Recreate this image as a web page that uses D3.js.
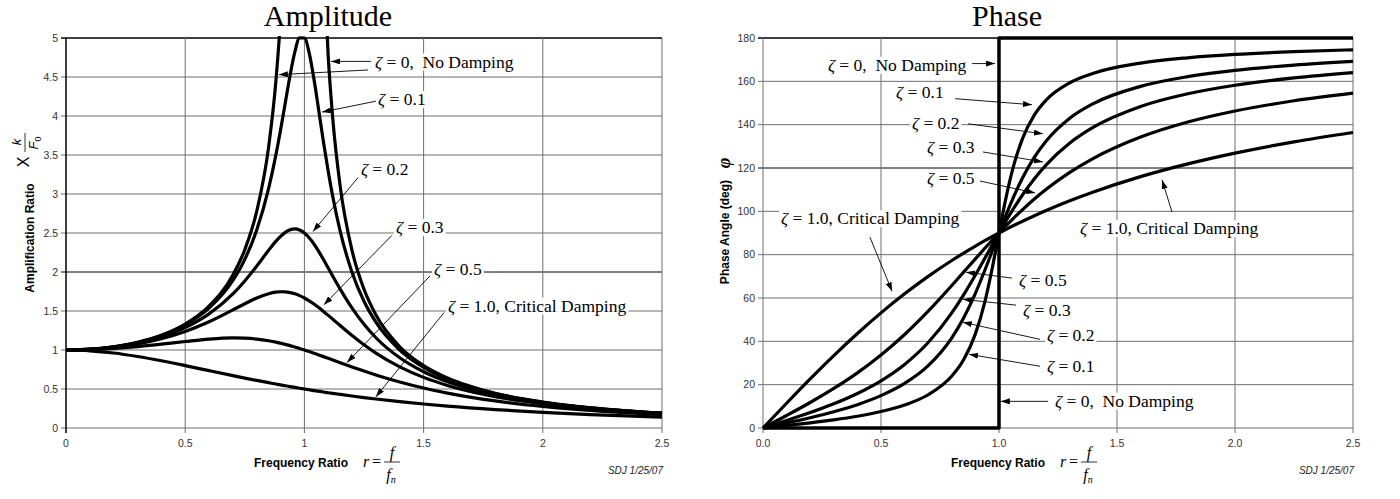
<!DOCTYPE html>
<html>
<head>
<meta charset="utf-8">
<script src="https://cdn.jsdelivr.net/npm/d3@7"></script>
<style>
  body { margin: 0; background: #fff; }
  text { font-family: "Liberation Sans", Arial, sans-serif; }
  .serif { font-family: "Liberation Serif", "Times New Roman", serif; }
</style>
</head>
<body>
<svg id="chart"></svg>
<script>
// frequency ratios r = f / fn used for the amplitude curves
const ratios = [0, 0.1, 0.2, 0.3, 0.4, 0.5, 0.6, 0.7, 0.75, 0.8, 0.85, 0.88, 0.9, 0.92, 0.94, 0.96, 0.98, 1.0,
  1.02, 1.04, 1.06, 1.08, 1.1, 1.12, 1.15, 1.2, 1.25, 1.3, 1.4, 1.5, 1.6, 1.8, 2.0, 2.2, 2.5];

// amplification ratio X k / F0, one list per damping ratio
const ampZeta0 = [1.0, 1.01, 1.042, 1.099, 1.19, 1.333, 1.563, 1.961, 2.286, 2.778, 3.604, 4.433, 5.263, 6.51,
  null, null, null, null, null, null, null, 6.01, 4.762, 3.931, 3.101, 2.273, 1.778, 1.449, 1.042, 0.8, 0.641, 0.446, 0.333, 0.26, 0.19];
const ampZeta01 = [1.0, 1.01, 1.041, 1.097, 1.185, 1.322, 1.536, 1.891, 2.162, 2.538, 3.073, 3.495, 3.821, 4.172,
  4.522, 4.822, 5.001, 5.0, 4.809, 4.476, 4.075, 3.668, 3.288, 2.95, 2.525, 1.995, 1.625, 1.356, 1.0, 0.778, 0.628, 0.441, 0.33, 0.259, 0.19];
const ampZeta02 = [1.0, 1.009, 1.038, 1.09, 1.17, 1.288, 1.463, 1.719, 1.885, 2.076, 2.279, 2.392, 2.457, 2.508,
  2.541, 2.552, 2.538, 2.5, 2.439, 2.359, 2.264, 2.16, 2.051, 1.941, 1.78, 1.536, 1.329, 1.157, 0.9, 0.721, 0.593, 0.425, 0.322, 0.254, 0.187];
const ampZeta03 = [1.0, 1.008, 1.034, 1.078, 1.145, 1.238, 1.362, 1.514, 1.593, 1.667, 1.722, 1.742, 1.747, 1.745,
  1.736, 1.72, 1.697, 1.667, 1.63, 1.589, 1.544, 1.495, 1.444, 1.392, 1.313, 1.185, 1.067, 0.96, 0.784, 0.649, 0.546, 0.402, 0.31, 0.246, 0.183];
const ampZeta05 = [1.0, 1.005, 1.02, 1.044, 1.075, 1.109, 1.14, 1.155, 1.152, 1.14, 1.118, 1.101, 1.087, 1.072,
  1.056, 1.038, 1.02, 1.0, 0.98, 0.959, 0.937, 0.915, 0.893, 0.871, 0.837, 0.782, 0.73, 0.68, 0.589, 0.512, 0.448, 0.348, 0.277, 0.226, 0.172];
const ampZeta10 = [1.0, 0.99, 0.962, 0.917, 0.862, 0.8, 0.735, 0.671, 0.64, 0.61, 0.581, 0.564, 0.552, 0.542,
  0.531, 0.52, 0.51, 0.5, 0.49, 0.48, 0.471, 0.462, 0.452, 0.444, 0.431, 0.41, 0.39, 0.372, 0.338, 0.308, 0.281, 0.236, 0.2, 0.171, 0.138];

// frequency ratios used for the phase curves
const phaseRatios = [0, 0.1, 0.2, 0.3, 0.4, 0.5, 0.6, 0.7, 0.8, 0.85, 0.9, 0.94, 0.97, 1.0, 1.03, 1.06, 1.1,
  1.15, 1.2, 1.3, 1.4, 1.6, 1.8, 2.0, 2.25, 2.5];
const phaseZeta01 = [0, 1.16, 2.39, 3.77, 5.44, 7.6, 10.62, 15.35, 23.96, 31.49, 43.45, 58.24, 73.06, 90,
  106.47, 120.25, 133.67, 144.5, 151.39, 159.35, 163.74, 168.41, 170.87, 172.41, 173.68, 174.56];
const phaseZeta02 = [0, 2.31, 4.76, 7.51, 10.78, 14.93, 20.56, 28.77, 41.63, 50.78, 62.18, 72.8, 81.34, 90,
  98.41, 106.25, 115.52, 125.03, 132.51, 143.0, 149.74, 157.69, 162.18, 165.07, 167.51, 169.22];
const phaseZeta03 = [0, 3.47, 7.13, 11.19, 15.95, 21.8, 29.36, 39.47, 53.13, 61.45, 70.62, 78.34, 84.2, 90,
  95.63, 101.0, 107.65, 115.05, 121.43, 131.5, 138.81, 148.39, 154.26, 158.2, 161.62, 164.05];
const phaseZeta05 = [0, 5.77, 11.77, 18.25, 25.46, 33.69, 43.15, 53.92, 65.77, 71.92, 78.08, 82.94, 86.51, 90,
  93.38, 96.65, 100.81, 105.67, 110.14, 117.96, 124.44, 134.27, 141.22, 146.31, 151.02, 154.54];
const phaseZeta10 = [0, 11.42, 22.62, 33.4, 43.6, 53.13, 61.93, 69.98, 77.32, 80.72, 83.97, 86.46, 88.26, 90,
  91.71, 93.35, 95.45, 97.98, 100.39, 104.86, 108.92, 116.01, 121.89, 126.87, 132.08, 136.4];
// undamped phase jumps from 0 to 180 at resonance
const phaseNoDampRatios = [0, 1, 1, 2.5];
const phaseNoDamping = [0, 0, 180, 180];

// tick values
const ratioTicks = [0, 0.5, 1, 1.5, 2, 2.5];
const ampTicks = [0, 0.5, 1, 1.5, 2, 2.5, 3, 3.5, 4, 4.5, 5];
const phaseTicks = [0, 20, 40, 60, 80, 100, 120, 140, 160, 180];

const svg = d3.select("#chart").attr("width", 1400).attr("height", 499);

// arrow head for the callouts
svg.append("defs").append("marker")
  .attr("id", "arrow")
  .attr("viewBox", "0 0 9 6")
  .attr("refX", 9).attr("refY", 3)
  .attr("markerWidth", 9).attr("markerHeight", 6)
  .attr("markerUnits", "userSpaceOnUse")
  .attr("orient", "auto")
  .append("path").attr("d", "M0,0L9,3L0,6Z").attr("fill", "#000");

function zetaText(sel, rest, size) {
  sel.attr("class", "serif").attr("font-size", size).style("white-space", "pre");
  sel.append("tspan").attr("font-style", "italic").text("ζ");
  sel.append("tspan").text(rest);
}

function drawPanel(p) {
  const g = svg.append("g");
  const x = d3.scaleLinear().domain([0, 2.5]).range([p.left, p.right]);
  const y = d3.scaleLinear().domain(p.yDomain).range([428, 38]);

  // grid
  g.append("g").selectAll("line").data(p.yTicks).join("line")
    .attr("x1", p.left - 5).attr("x2", p.right)
    .attr("y1", (d) => y(d)).attr("y2", (d) => y(d))
    .attr("stroke", (d) => (d === p.darkLine || d === p.yDomain[1] ? "#000" : "#6e6e6e"))
    .attr("stroke-width", (d) => (d === p.yDomain[1] ? 1.5 : 1));
  g.append("g").selectAll("line").data(ratioTicks).join("line")
    .attr("x1", (d) => x(d)).attr("x2", (d) => x(d))
    .attr("y1", y(p.yDomain[0]) + 5).attr("y2", y(p.yDomain[1]))
    .attr("stroke", (d) => (d === 0 && p.blackLeft ? "#000" : "#6e6e6e"))
    .attr("stroke-width", (d) => (d === 0 && p.blackLeft ? 1.5 : 1));

  // tick labels
  g.append("g").selectAll("text").data(p.yTicks).join("text")
    .attr("x", p.left - 8).attr("y", (d) => y(d)).attr("dy", "0.35em")
    .attr("text-anchor", "end").attr("font-size", 10.5).attr("fill", "#333")
    .text((d) => d);
  g.append("g").selectAll("text").data(ratioTicks).join("text")
    .attr("x", (d) => x(d)).attr("y", 447)
    .attr("text-anchor", "middle").attr("font-size", 10.5).attr("fill", "#333")
    .text(p.xFormat);

  // curves
  const clipId = "clip" + p.left;
  svg.append("clipPath").attr("id", clipId).append("rect")
    .attr("x", p.left - 2).attr("y", 36).attr("width", p.right - p.left + 4).attr("height", 395);
  const smooth = d3.line().defined((d) => d[1] != null)
    .x((d) => x(d[0])).y((d) => y(d[1])).curve(d3.curveMonotoneX);
  const straight = d3.line().x((d) => x(d[0])).y((d) => y(d[1]));
  g.append("g").attr("clip-path", `url(#${clipId})`)
    .selectAll("path").data(p.series).join("path")
    .attr("d", (s) => (s.step ? straight : smooth)(s.r.map((r, i) => [r, s.v[i]])))
    .attr("fill", "none").attr("stroke", "#000")
    .attr("stroke-width", (s) => (s.step ? 3.5 : 3.2))
    .attr("stroke-linejoin", "round");

  // callouts
  p.notes.forEach((n) => {
    n.arrows.forEach((a) => {
      g.append("line")
        .attr("x1", x(a[0])).attr("y1", y(a[1]))
        .attr("x2", x(a[2])).attr("y2", y(a[3]))
        .attr("stroke", "#000").attr("stroke-width", 0.9)
        .attr("marker-end", "url(#arrow)");
    });
    const t = g.append("text").attr("x", x(n.at[0])).attr("y", y(n.at[1])).attr("dy", "0.35em");
    zetaText(t, n.rest, 17.5);
    const b = t.node().getBBox();
    g.insert("rect", () => t.node())
      .attr("x", b.x - 2).attr("y", b.y + 2).attr("width", b.width + 4).attr("height", b.height - 3)
      .attr("fill", "#fff");
  });

  // title
  svg.append("text").attr("class", "serif")
    .attr("x", p.titleX).attr("y", 26).attr("text-anchor", "middle")
    .attr("font-size", 30).text(p.title);

  // x axis label
  svg.append("text").attr("x", p.xLabelX).attr("y", 467).attr("text-anchor", "middle")
    .attr("font-size", 12).attr("font-weight", "bold").text("Frequency Ratio");
  const rx = p.xLabelX + 62;
  svg.append("text").attr("class", "serif").attr("x", rx).attr("y", 467)
    .attr("font-size", 16).attr("font-style", "italic").text("r");
  svg.append("text").attr("class", "serif").attr("x", rx + 9).attr("y", 467)
    .attr("font-size", 16).text("=");
  svg.append("line").attr("x1", rx + 21).attr("x2", rx + 37).attr("y1", 462).attr("y2", 462)
    .attr("stroke", "#000").attr("stroke-width", 0.8);
  svg.append("text").attr("class", "serif").attr("x", rx + 29).attr("y", 458)
    .attr("text-anchor", "middle").attr("font-size", 16).attr("font-style", "italic").text("f");
  const fn = svg.append("text").attr("class", "serif").attr("x", rx + 28).attr("y", 480)
    .attr("text-anchor", "middle").attr("font-size", 16).attr("font-style", "italic");
  fn.append("tspan").text("f");
  fn.append("tspan").attr("font-size", 10).attr("dy", 3).text("n");

  svg.append("text").attr("x", p.right + 1).attr("y", 474).attr("text-anchor", "end")
    .attr("font-size", 10).attr("font-style", "italic").attr("fill", "#222").text("SDJ 1/25/07");

  // y axis label
  svg.append("text")
    .attr("transform", `translate(${p.yLabelX},${p.yLabelY}) rotate(-90)`)
    .attr("text-anchor", "middle").attr("font-size", 12).attr("font-weight", "bold")
    .text(p.yLabel);

  return { x, y };
}

drawPanel({
  left: 66, right: 662, yDomain: [0, 5], yTicks: ampTicks, darkLine: 2, blackLeft: true,
  xFormat: (d) => d,
  title: "Amplitude", titleX: 328, xLabelX: 301,
  yLabel: "Amplification Ratio", yLabelX: 34, yLabelY: 238,
  series: [
    { r: ratios, v: ampZeta0 }, { r: ratios, v: ampZeta01 }, { r: ratios, v: ampZeta02 },
    { r: ratios, v: ampZeta03 }, { r: ratios, v: ampZeta05 }, { r: ratios, v: ampZeta10 }
  ],
  notes: [
    { rest: " = 0,  No Damping", at: [1.296, 4.7], arrows: [[1.28, 4.7, 1.112, 4.7], [1.267, 4.59, 0.893, 4.53]] },
    { rest: " = 0.1", at: [1.309, 4.22], arrows: [[1.3, 4.19, 1.074, 4.05]] },
    { rest: " = 0.2", at: [1.237, 3.32], arrows: [[1.225, 3.21, 1.036, 2.52]] },
    { rest: " = 0.3", at: [1.384, 2.58], arrows: [[1.367, 2.47, 1.082, 1.58]] },
    { rest: " = 0.5", at: [1.544, 2.04], arrows: [[1.527, 1.95, 1.179, 0.84]] },
    { rest: " = 1.0, Critical Damping", at: [1.602, 1.57], arrows: [[1.586, 1.48, 1.3, 0.4]] }
  ]
});

drawPanel({
  left: 763, right: 1353, yDomain: [0, 180], yTicks: phaseTicks, darkLine: 120, blackLeft: false,
  xFormat: (d) => d.toFixed(1),
  title: "Phase", titleX: 1007, xLabelX: 998,
  yLabel: "Phase Angle (deg)", yLabelX: 729, yLabelY: 232,
  series: [
    { r: phaseNoDampRatios, v: phaseNoDamping, step: true },
    { r: phaseRatios, v: phaseZeta01 }, { r: phaseRatios, v: phaseZeta02 },
    { r: phaseRatios, v: phaseZeta03 }, { r: phaseRatios, v: phaseZeta05 }, { r: phaseRatios, v: phaseZeta10 }
  ],
  notes: [
    { rest: " = 0,  No Damping", at: [0.275, 167.7], arrows: [[0.886, 168.2, 0.983, 168.2]] },
    { rest: " = 0.1", at: [0.564, 155.2], arrows: [[0.814, 152.0, 1.14, 149.2]] },
    { rest: " = 0.2", at: [0.631, 140.9], arrows: [[0.869, 140.4, 1.186, 135.8]] },
    { rest: " = 0.3", at: [0.695, 129.7], arrows: [[0.932, 127.4, 1.186, 122.8]] },
    { rest: " = 0.5", at: [0.695, 115.4], arrows: [[0.919, 114.0, 1.153, 108.5]] },
    { rest: " = 1.0, Critical Damping", at: [0.076, 96.9], arrows: [[0.453, 88.1, 0.547, 63.1]] },
    { rest: " = 1.0, Critical Damping", at: [1.343, 92.3], arrows: [[1.733, 99.7, 1.691, 114.5]] },
    { rest: " = 0.5", at: [1.085, 68.2], arrows: [[1.055, 69.2, 0.86, 71.9]] },
    { rest: " = 0.3", at: [1.102, 54.4], arrows: [[1.072, 56.7, 0.847, 59.4]] },
    { rest: " = 0.2", at: [1.203, 42.8], arrows: [[1.174, 40.9, 0.847, 48.8]] },
    { rest: " = 0.1", at: [1.203, 28.9], arrows: [[1.174, 28.5, 0.873, 34.0]] },
    { rest: " = 0,  No Damping", at: [1.237, 12.7], arrows: [[1.208, 12.3, 1.008, 12.3]] }
  ]
});

// X k/F0 beside the amplitude axis title (rotated)
const amath = svg.append("g").attr("class", "serif").attr("transform", "translate(24,150) rotate(-90)");
amath.append("text").attr("x", -12).attr("y", 5).attr("text-anchor", "middle")
  .attr("font-size", 16).text("X");
amath.append("line").attr("x1", -2).attr("x2", 17).attr("y1", 1).attr("y2", 1)
  .attr("stroke", "#000").attr("stroke-width", 0.8);
amath.append("text").attr("x", 8).attr("y", -3).attr("text-anchor", "middle")
  .attr("font-size", 13).attr("font-style", "italic").text("k");
const f0 = amath.append("text").attr("x", 7).attr("y", 14).attr("text-anchor", "middle")
  .attr("font-size", 13).attr("font-style", "italic");
f0.append("tspan").text("F");
f0.append("tspan").attr("font-size", 9).attr("dy", 3).attr("font-style", "normal").text("0");

// phi beside the phase axis title
svg.append("text").attr("class", "serif")
  .attr("transform", "translate(730,163) rotate(-90)")
  .attr("text-anchor", "middle").attr("font-size", 18).attr("font-style", "italic")
  .attr("font-weight", "bold").text("φ");
</script>
</body>
</html>
